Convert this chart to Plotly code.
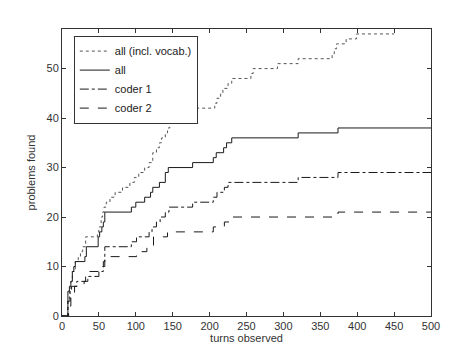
import plotly.graph_objects as go

# step breakpoints (turn at which count changes) and counts
vocab_x = [0, 8, 10, 12, 14, 18, 22, 25, 28, 32, 48, 50, 53, 55, 57, 60, 65, 72, 82, 92, 98, 104, 112, 118, 123, 128, 132, 135, 140, 143, 146,
           178, 207, 210, 215, 218, 225, 230, 256, 259, 292, 320, 366, 369, 372, 385, 399, 450]
vocab_y = [0, 3, 5, 7, 9, 11, 12, 13, 14, 16, 17, 18, 20, 21, 22, 23, 24, 25, 26, 27, 28, 29, 30, 31, 33, 34, 35, 36, 37, 38, 40,
           42, 43, 44, 45, 46, 47, 48, 49, 50, 51, 52, 53, 54, 55, 56, 57, 57]

all_x = [0, 8, 10, 12, 14, 16, 18, 31, 33, 49, 51, 54, 56, 58, 94, 100, 112, 120, 123, 132, 140, 144, 177, 205, 209, 219, 223, 230, 320, 374, 500]
all_y = [0, 5, 6, 7, 9, 10, 11, 12, 14, 16, 17, 18, 19, 21, 22, 23, 24, 25, 26, 27, 29, 30, 31, 32, 33, 34, 35, 36, 37, 38, 38]

c1_x = [0, 8, 11, 13, 20, 32, 50, 56, 58, 94, 101, 118, 122, 128, 133, 140, 145, 177, 205, 210, 220, 225, 320, 374, 500]
c1_y = [0, 3, 5, 6, 7, 8, 9, 11, 14, 15, 16, 17, 18, 19, 20, 21, 22, 23, 24, 25, 26, 27, 28, 29, 29]

c2_x = [0, 9, 12, 17, 30, 35, 55, 58, 101, 115, 124, 143, 205, 220, 230, 374, 500]
c2_y = [0, 2, 4, 6, 7, 9, 10, 12, 13, 14, 16, 17, 18, 19, 20, 21, 21]

series = [
    ("all (incl. vocab.)", vocab_x, vocab_y, "dot", "#555555"),
    ("all", all_x, all_y, "solid", "#1a1a1a"),
    ("coder 1", c1_x, c1_y, "dashdot", "#1a1a1a"),
    ("coder 2", c2_x, c2_y, "dash", "#1a1a1a"),
]

fig = go.Figure()
for name, xs, ys, dash, col in series:
    fig.add_trace(go.Scatter(x=xs, y=ys, mode="lines", name=name,
                             line=dict(shape="hv", dash=dash, color=col, width=1)))

font = dict(family="Liberation Sans, Arial, sans-serif", size=11, color="#333333")
fig.update_layout(
    width=474, height=354,
    margin=dict(l=62, r=43, t=29, b=38),
    paper_bgcolor="white", plot_bgcolor="white",
    font=font,
    showlegend=True,
    legend=dict(x=0.032, y=0.977, xanchor="left", yanchor="top",
                bordercolor="#333333", borderwidth=1, bgcolor="white",
                font=dict(family="Liberation Sans, Arial, sans-serif", size=11, color="#222222"),
                tracegroupgap=0),
    xaxis=dict(range=[0, 500], tickvals=list(range(0, 501, 50)),
               showgrid=False, zeroline=False, showline=True, linecolor="#333333", linewidth=1,
               mirror="ticks", ticks="inside", ticklen=4, tickcolor="#333333",
               title=dict(text="turns observed", standoff=2, font=font)),
    yaxis=dict(range=[0, 58], tickvals=list(range(0, 51, 10)),
               showgrid=False, zeroline=False, showline=True, linecolor="#333333", linewidth=1,
               mirror="ticks", ticks="inside", ticklen=4, tickcolor="#333333",
               title=dict(text="problems found", standoff=8, font=font)),
)

fig.write_html("out.html")
